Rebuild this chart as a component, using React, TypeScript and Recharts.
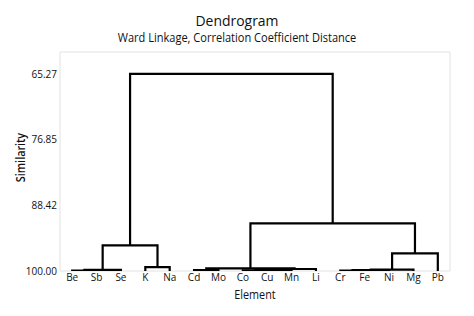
import React from 'react';
import { ComposedChart, Line, XAxis, YAxis, ReferenceArea } from 'recharts';

const elements = ['Be', 'Sb', 'Se', 'K', 'Na', 'Cd', 'Mo', 'Co', 'Cu', 'Mn', 'Li', 'Cr', 'Fe', 'Ni', 'Mg', 'Pb'];
const similarityTicks = [65.27, 76.85, 88.42, 100.0];
// linkage: cluster ids 0..15 are leaves, merge i creates cluster 16 + i
const mergeLeft = [0, 16, 3, 17, 5, 7, 21, 22, 20, 11, 25, 26, 27, 24, 19];
const mergeRight = [1, 2, 4, 18, 6, 8, 9, 10, 23, 12, 13, 14, 15, 28, 29];
const mergeSimilarity = [99.95, 99.8, 99.3, 95.5, 99.85, 99.9, 99.8, 99.65, 99.55, 99.92, 99.85, 99.75, 96.9, 91.6, 65.27];

type Pt = { x: number; y: number };

function buildLinks(): Pt[][] {
  const pos: number[] = elements.map((_, i) => i);
  const height: number[] = elements.map(() => 100);
  const links: Pt[][] = [];
  mergeLeft.forEach((l, i) => {
    const r = mergeRight[i];
    const h = mergeSimilarity[i];
    links.push([
      { x: pos[l], y: height[l] },
      { x: pos[l], y: h },
      { x: pos[r], y: h },
      { x: pos[r], y: height[r] },
    ]);
    pos.push((pos[l] + pos[r]) / 2);
    height.push(h);
  });
  return links;
}

const links = buildLinks();
const font = "'Open Sans', 'Noto Sans', sans-serif";

export default function App() {
  return (
    <div style={{ position: 'relative', width: 466, height: 308, fontFamily: font }}>
      <div style={{ position: 'absolute', left: 0, width: 458, top: 3, textAlign: 'center', fontSize: 15, lineHeight: '18px', color: '#111', transform: 'scaleX(0.93)' }}>
        Dendrogram
      </div>
      <div style={{ position: 'absolute', left: 0, width: 458, top: 23, textAlign: 'center', fontSize: 12, lineHeight: '14px', color: '#111', transform: 'scaleX(0.92)' }}>
        Ward Linkage, Correlation Coefficient Distance
      </div>
      <div style={{ position: 'absolute', left: 3, top: 140, width: 18, height: 18, display: 'flex', alignItems: 'center', justifyContent: 'center' }}>
        <div style={{ transform: 'rotate(-90deg) scaleX(0.9)', fontSize: 12, fontWeight: 600, whiteSpace: 'nowrap', color: '#111' }}>Similarity</div>
      </div>
      <div style={{ position: 'absolute', left: 187, width: 120, top: 278, textAlign: 'center', fontSize: 12, color: '#111', transform: 'scaleX(0.9)' }}>
        Element
      </div>
      <div style={{ position: 'absolute', left: 0, top: 0 }}>
        <ComposedChart width={466} height={308} margin={{ top: 44, right: 24, left: 0, bottom: 15 }}>
          <XAxis
            dataKey="x"
            type="number"
            domain={[-0.5, 15.5]}
            ticks={elements.map((_, i) => i)}
            tickFormatter={(v: number) => elements[v] ?? ''}
            interval={0}
            axisLine={false}
            tickLine={false}
            tickSize={0}
            tickMargin={3}
            height={30}
            tick={{ fontSize: 10, fill: '#111', fontFamily: font }}
            allowDataOverflow
          />
          <YAxis
            type="number"
            domain={[61.4, 100]}
            reversed
            ticks={similarityTicks}
            tickFormatter={(v: number) => v.toFixed(2)}
            interval={0}
            axisLine={false}
            tickLine={false}
            tickSize={0}
            tickMargin={3}
            width={52}
            tick={{ fontSize: 10, fill: '#111', fontFamily: font }}
            allowDataOverflow
          />
          <ReferenceArea x1={-0.5} x2={15.5} y1={61.4} y2={100} fill="none" stroke="#e2e2e2" strokeWidth={1} ifOverflow="visible" />
          {links.map((seg, i) => (
            <Line
              key={i}
              data={seg}
              dataKey="y"
              type="linear"
              stroke="#000"
              strokeWidth={2.2}
              dot={false}
              activeDot={false}
              isAnimationActive={false}
              strokeLinejoin="miter"
              strokeLinecap="butt"
            />
          ))}
        </ComposedChart>
      </div>
    </div>
  );
}
